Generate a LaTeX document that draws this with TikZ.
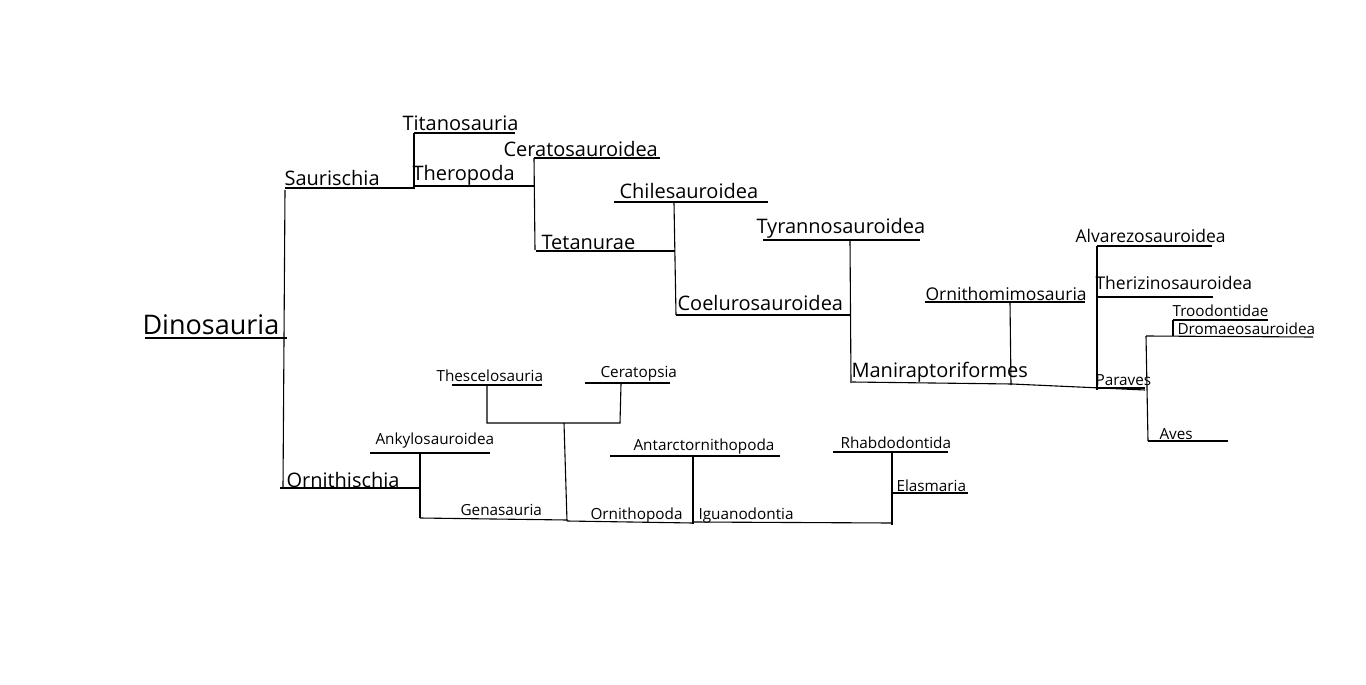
\documentclass[tikz,border=0pt]{standalone}
\usepackage{fontspec}
\setmainfont{Open Sans}
\begin{document}
\begin{tikzpicture}[x=1pt,y=-1pt,line width=1.1pt,
 big/.style={anchor=west,font=\fontsize{27}{27}\selectfont,inner sep=0},
 mid/.style={anchor=west,font=\fontsize{20}{20}\selectfont,inner sep=0},
 med/.style={anchor=west,font=\fontsize{17.5}{17.5}\selectfont,inner sep=0},
 sml/.style={anchor=west,font=\fontsize{15.3}{15.3}\selectfont,inner sep=0}]
\useasboundingbox (0,0) rectangle (1366,685);
% labels
\node[big] (dino) at (142,325) {Dinosauria};
\node[mid] (sau) at (284,178) {Saurischia};
\node[mid] (tit) at (402,123) {Titanosauria};
\node[mid] (the) at (412,175) {Theropoda};
\node[mid] (cer) at (503,149) {Ceratosauroidea};
\node[mid] (tet) at (541,242) {Tetanurae};
\node[mid] (chi) at (619,191) {Chilesauroidea};
\node[mid] (coe) at (677,303) {Coelurosauroidea};
\node[mid] (tyr) at (756,228) {Tyrannosauroidea};
\node[mid] (man) at (851,372) {Maniraptoriformes};
\node[med] (orm) at (925,294) {Ornithomimosauria};
\node[med] (alv) at (1075,236) {Alvarezosauroidea};
\node[med] (ther) at (1095,283) {Therizinosauroidea};
\node[sml] (trd) at (1172,311) {Troodontidae};
\node[sml] (dro) at (1177,329) {Dromaeosauroidea};
\node[sml] (par) at (1095,380) {Paraves};
\node[sml] (ave) at (1159,434) {Aves};
\node[mid] (orn) at (286,480) {Ornithischia};
\node[sml] (ank) at (375,441) {Ankylosauroidea};
\node[sml] (thes) at (436,376) {Thescelosauria};
\node[sml] (cet) at (600,374) {Ceratopsia};
\node[sml] (gen) at (460,510) {Genasauria};
\node[sml] (orp) at (590,516) {Ornithopoda};
\node[sml] (ant) at (633,447) {Antarctornithopoda};
\node[sml] (igu) at (698,516) {Iguanodontia};
\node[sml] (rha) at (840,443) {Rhabdodontida};
\node[sml] (ela) at (896,486) {Elasmaria};
% tree
\draw (145,338) -- (287,338);
\draw (285,190) -- (283,488);
\draw (285,188) -- (415,188);
\draw (414,133) -- (414,188);
\draw (414,133) -- (515,133);
\draw (414,186) -- (535,186);
\draw (534,158) -- (535,250);
\draw (534,158) -- (660,158);
\draw (536,251) -- (675,251);
\draw (614,202) -- (768,202);
\draw (674,203) -- (676,315);
\draw (676,315) -- (850,315);
\draw (763,240) -- (920,240);
\draw (850,240) -- (851,383);
\draw (852,382) -- (1012,384) -- (1145,390);
\draw (925,302) -- (1085,302);
\draw (1010,302) -- (1011,385);
\draw (1097,246) -- (1097,390);
\draw (1097,246) -- (1212,246);
\draw (1097,297) -- (1213,297);
\draw (1097,388) -- (1145,388);
\draw (1146,336) -- (1148,441);
\draw (1148,441) -- (1228,441);
\draw (1173,320) -- (1268,320);
\draw (1173,320) -- (1173,336);
\draw (1146,336) -- (1313,337);
\draw (280,488) -- (420,488);
\draw (420,452) -- (420,518);
\draw (370,453) -- (490,453);
\draw (420,518) -- (567,520);
\draw (564,423) -- (567,521);
\draw (452,385) -- (542,385);
\draw (585,383) -- (670,383);
\draw (487,385) -- (487,423) -- (620,423) -- (621,384);
\draw (567,521) -- (693,523);
\draw (693,456) -- (693,524);
\draw (610,456) -- (780,456);
\draw (693,522) -- (892,523);
\draw (892,452) -- (892,525);
\draw (833,452) -- (948,452);
\draw (893,493) -- (968,493);
\end{tikzpicture}
\end{document}
